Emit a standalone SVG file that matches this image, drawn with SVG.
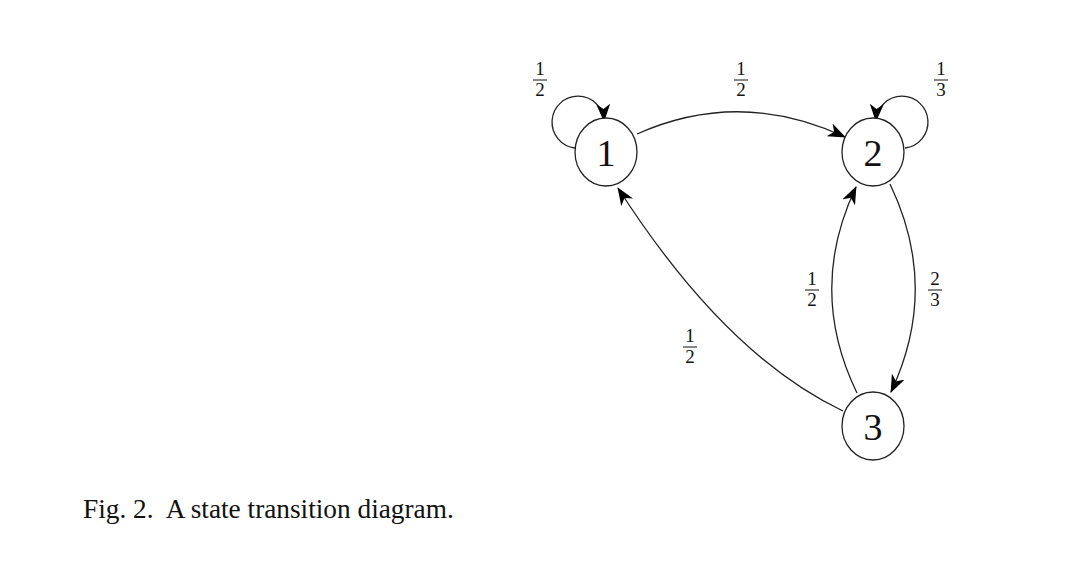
<svg xmlns="http://www.w3.org/2000/svg" width="1076" height="568" viewBox="0 0 1076 568">
<defs>
<marker id="arr" viewBox="0 0 18 14" markerWidth="18" markerHeight="14" refX="17" refY="7" orient="auto" markerUnits="userSpaceOnUse">
<path d="M0,0 L18,7 L0,14 L5,7 Z" fill="#000"/>
</marker>
<style>
.node ellipse{fill:#fff;stroke:#222;stroke-width:1.3}
.node text{font-family:"Liberation Serif","DejaVu Serif",serif;font-size:38px;text-anchor:middle;fill:#111}
.edge{fill:none;stroke:#222;stroke-width:1.3;marker-end:url(#arr)}
.frac text{font-family:"Liberation Serif","DejaVu Serif",serif;font-size:19px;text-anchor:middle;fill:#111}
.frac line{stroke:#111;stroke-width:1}
.cap{font-family:"Liberation Serif","Times New Roman",serif;font-size:27.3px;fill:#111}
</style>
</defs>
<rect width="1076" height="568" fill="#fff"/>
<g id="connectors">
<path class="edge" d="M637,134 Q740,88 845,137"/>
<path class="edge" d="M575,148 A26,26 0 1 1 604,121"/>
<path class="edge" d="M905,148 A26,26 0 1 0 876,121"/>
<path class="edge" d="M890,184 Q940,288 891,392"/>
<path class="edge" d="M857,393 Q807,290 856,187"/>
<path class="edge" d="M843,411 Q725,355 618,188"/>
</g>
<g id="labels">
<g class="frac"><text x="540" y="75">1</text><line x1="533" y1="80" x2="547" y2="80"/><text x="540" y="96">2</text></g>
<g class="frac"><text x="741" y="75">1</text><line x1="734" y1="80" x2="748" y2="80"/><text x="741" y="96">2</text></g>
<g class="frac"><text x="941" y="75">1</text><line x1="934" y1="80" x2="948" y2="80"/><text x="941" y="96">3</text></g>
<g class="frac"><text x="935" y="285">2</text><line x1="928" y1="290" x2="942" y2="290"/><text x="935" y="306">3</text></g>
<g class="frac"><text x="812" y="285">1</text><line x1="805" y1="290" x2="819" y2="290"/><text x="812" y="306">2</text></g>
<g class="frac"><text x="690" y="342">1</text><line x1="683" y1="347" x2="697" y2="347"/><text x="690" y="363">2</text></g>
</g>
<g id="node1" class="node"><ellipse cx="606" cy="152" rx="31" ry="34"/><text x="606" y="166">1</text></g>
<g id="node2" class="node"><ellipse cx="873" cy="152" rx="31" ry="34"/><text x="873" y="166">2</text></g>
<g id="node3" class="node"><ellipse cx="873" cy="426" rx="31" ry="34"/><text x="873" y="440">3</text></g>
<text class="cap" x="83" y="518" xml:space="preserve">Fig. 2.  A state transition diagram.</text>
</svg>
